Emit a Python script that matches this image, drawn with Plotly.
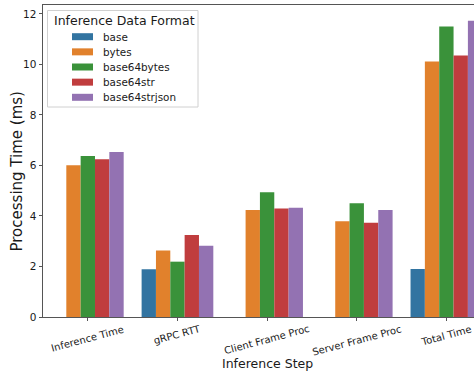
import plotly.graph_objects as go

categories = ["Inference Time", "gRPC RTT", "Client Frame Proc", "Server Frame Proc", "Total Time"]
series_names = ["base", "bytes", "base64bytes", "base64str", "base64strjson"]
base = [None, 1.89, None, None, 1.90]
bytes_ = [6.01, 2.63, 4.24, 3.79, 10.11]
base64bytes = [6.37, 2.19, 4.94, 4.50, 11.50]
base64str = [6.24, 3.25, 4.29, 3.73, 10.35]
base64strjson = [6.53, 2.82, 4.32, 4.24, 11.73]
series_values = [base, bytes_, base64bytes, base64str, base64strjson]
colors = ["#3274a1", "#e1812c", "#3a923a", "#c03d3e", "#9372b2"]
y_ticks = [0, 2, 4, 6, 8, 10, 12]

W, H = 474, 372
ML, MR, MT, MB = 43, 0, 5, 55
PW, PH = W - ML - MR, H - MT - MB
FONT = "DejaVu Sans"
TXT = "#1a1a1a"


def px(x):
    return (x - ML) / PW


def py(y):
    return (H - MB - y) / PH


fig = go.Figure()
for name, vals, col in zip(series_names, series_values, colors):
    fig.add_trace(go.Bar(
        x=list(range(len(categories))), y=vals, name=name,
        marker=dict(color=col, line=dict(width=0)), showlegend=False,
    ))

shapes = []
annotations = []

# legend box
shapes.append(dict(type="rect", xref="paper", yref="paper",
                   x0=px(47.5), x1=px(198), y0=py(107), y1=py(10.5),
                   line=dict(color="#d0d0d0", width=1), fillcolor="rgba(255,255,255,0.8)",
                   layer="above"))
annotations.append(dict(text="Inference Data Format", xref="paper", yref="paper",
                        x=px(52.5), y=py(20.7), xanchor="left", yanchor="middle",
                        showarrow=False, borderpad=0, font=dict(family=FONT, size=12.5, color=TXT)))
for i, (name, col) in enumerate(zip(series_names, colors)):
    cy = 36.7 + i * 15.15
    shapes.append(dict(type="rect", xref="paper", yref="paper",
                       x0=px(72), x1=px(93), y0=py(cy + 3.5), y1=py(cy - 3.5),
                       line=dict(width=0), fillcolor=col, layer="above"))
    annotations.append(dict(text=name, xref="paper", yref="paper",
                            x=px(101.5), y=py(cy), xanchor="left", yanchor="middle",
                            showarrow=False, borderpad=0,
                            font=dict(family=FONT, size=10.4, color=TXT)))

# x tick labels (centered, rotated)
for i, c in enumerate(categories):
    annotations.append(dict(text=c, xref="x", yref="paper", x=i, y=py(322),
                            xanchor="center", yanchor="top", textangle=-15,
                            showarrow=False, borderpad=0,
                            font=dict(family=FONT, size=10, color=TXT)))

# axis titles
annotations.append(dict(text="Inference Step", xref="x", yref="paper", x=2, y=py(363),
                        xanchor="center", yanchor="middle", showarrow=False, borderpad=0,
                        font=dict(family=FONT, size=12.5, color=TXT)))
annotations.append(dict(text="Processing Time (ms)", xref="paper", yref="paper",
                        x=px(16.5), y=py(172), xanchor="center", yanchor="middle",
                        textangle=-90, showarrow=False, borderpad=0,
                        font=dict(family=FONT, size=15, color=TXT)))

fig.update_layout(
    width=W, height=H,
    margin=dict(l=ML, r=MR, t=MT, b=MB),
    paper_bgcolor="white", plot_bgcolor="white",
    barmode="group", bargap=0.2, bargroupgap=0,
    showlegend=False,
    shapes=shapes, annotations=annotations,
    font=dict(family=FONT, size=10, color=TXT),
)
fig.update_xaxes(
    range=[-0.5, (474 - 88) / 89.6], tickvals=list(range(len(categories))),
    showticklabels=False, ticks="outside", ticklen=3, tickcolor="#555",
    showline=True, linecolor="#555", linewidth=1, mirror=True,
    showgrid=False, zeroline=False,
)
fig.update_yaxes(
    range=[0, 12.35], tickvals=y_ticks, ticks="outside", ticklen=3.5, tickcolor="#555",
    showline=True, linecolor="#555", linewidth=1, mirror=True,
    showgrid=False, zeroline=False,
    tickfont=dict(family=FONT, size=10.5, color=TXT),
)

fig.write_html("out.html", config={"displayModeBar": False},
               post_script="document.body.style.margin='0';document.body.style.padding='0';"
                           "document.documentElement.style.overflow='hidden';")
